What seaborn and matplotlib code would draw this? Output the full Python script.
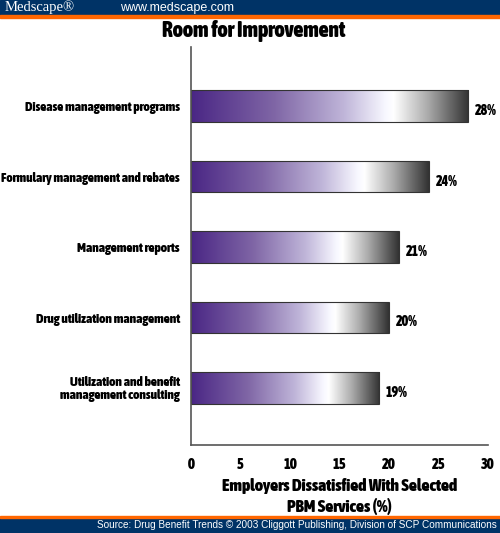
import numpy as np
import pandas as pd
import matplotlib
matplotlib.use("Agg")
import matplotlib.pyplot as plt
from matplotlib import font_manager
import matplotlib.patheffects as pe
from matplotlib.colors import LinearSegmentedColormap
import seaborn as sns

categories = ["Disease management programs",
              "Formulary management and rebates",
              "Management reports",
              "Drug utilization management",
              "Utilization and benefit\nmanagement consulting"]
values = [28, 24, 21, 20, 19]
value_labels = ["28%", "24%", "21%", "20%", "19%"]
xticks = [0, 5, 10, 15, 20, 25, 30]

sns.set_style("white")

# find a condensed / narrow family, preferring a bold face
cond_bold = None
cond_any = None
for f in font_manager.fontManager.ttflist:
    n = f.name.lower()
    if "narrow" in n or "condensed" in n:
        w = f.weight if isinstance(f.weight, int) else (700 if "bold" in str(f.weight).lower() else 400)
        if w >= 600 and "italic" not in f.style and cond_bold is None:
            cond_bold = f.fname
        if cond_any is None:
            cond_any = f.name
if cond_bold:
    EFF = []
    FAM = None
else:
    FAM = ([cond_any] if cond_any else []) + ["DejaVu Sans"]
    EFF = [pe.withStroke(linewidth=0.7, foreground="black")]

plt.rcParams["text.color"] = "black"
plt.rcParams["xtick.color"] = "black"
plt.rcParams["ytick.color"] = "black"
plt.rcParams["axes.labelcolor"] = "black"


def style(t, size):
    if cond_bold:
        t.set_fontproperties(font_manager.FontProperties(fname=cond_bold, size=size))
    else:
        t.set_family(FAM)
        t.set_fontweight("bold")
        t.set_fontsize(size)
        t.set_path_effects(EFF)


fig = plt.figure(figsize=(5, 5.33), dpi=100)
ax = fig.add_axes([0.382, 0.165, 0.594, 0.747])

df = pd.DataFrame({"cat": categories, "val": values})
sns.barplot(data=df, x="val", y="cat", orient="h", ax=ax, width=0.45,
            color="white", edgecolor="#333333", linewidth=0.8)

cmap = LinearSegmentedColormap.from_list("grad", [
    (0.0, (0.29, 0.15, 0.52)),
    (0.30, (0.50, 0.40, 0.65)),
    (0.55, (0.75, 0.71, 0.85)),
    (0.70, (0.97, 0.97, 1.0)),
    (0.73, (1.0, 1.0, 1.0)),
    (0.85, (0.68, 0.68, 0.68)),
    (1.0, (0.20, 0.20, 0.20)),
])
grad = np.linspace(0, 1, 256).reshape(1, -1)
for p in ax.patches:
    x0, y0 = p.get_x(), p.get_y()
    w, h = p.get_width(), p.get_height()
    im = ax.imshow(grad, cmap=cmap, aspect="auto",
                   extent=[x0, x0 + w, y0 + h, y0], zorder=p.get_zorder() - 0.1)
    im.set_clip_path(p)
    p.set_facecolor("none")

for i, (v, lab) in enumerate(zip(values, value_labels)):
    t = ax.text(v + 0.7, i + 0.07, lab, va="center", ha="left")
    style(t, 10)

ax.set_xlim(0, 30)
ax.set_ylim(4.81, -0.84)
ax.set_xticks(xticks)
ax.set_xticklabels([str(t) for t in xticks])
for t in ax.get_xticklabels():
    style(t, 10.5)
ax.set_yticks(range(len(categories)))
ax.set_yticklabels(categories, linespacing=1.0)
for t in ax.get_yticklabels():
    style(t, 9.5)
ax.tick_params(axis="y", length=0, pad=8)
ax.tick_params(axis="x", length=6, width=1, color="#555555", direction="out", pad=3)
ax.set_xlabel("Employers Dissatisfied With Selected\nPBM Services (%)", labelpad=5,
              linespacing=1.25)
style(ax.xaxis.label, 12.5)
ax.set_ylabel("")
for s in ["top", "right"]:
    ax.spines[s].set_visible(False)
for s in ["left", "bottom"]:
    ax.spines[s].set_color("#555555")
    ax.spines[s].set_linewidth(1.2)

# Header band
fig.patches.append(plt.Rectangle((0, 1 - 15 / 533), 1, 15 / 533, transform=fig.transFigure,
                                 color="#003366", zorder=0))
fig.patches.append(plt.Rectangle((0, 1 - 17.5 / 533), 1, 2.5 / 533, transform=fig.transFigure,
                                 color="#ff6600", zorder=0))
fig.text(0.01, 1 - 7.5 / 533, "Medscape\u00ae", color="white", fontsize=10.5,
         family=["Liberation Serif", "DejaVu Serif"], va="center", ha="left")
fig.text(0.24, 1 - 7.5 / 533, "www.medscape.com", color="white", fontsize=9,
         family=["Liberation Sans", "DejaVu Sans"], va="center", ha="left")
tt = fig.text(0.508, 1 - 31 / 533, "Room for Improvement", ha="center", va="center")
style(tt, 15.5)

# Footer band
fig.patches.append(plt.Rectangle((0, 0), 1, 15 / 533, transform=fig.transFigure,
                                 color="#003366", zorder=0))
fig.patches.append(plt.Rectangle((0, 15 / 533), 1, 2 / 533, transform=fig.transFigure,
                                 color="#ff6600", zorder=0))
fig.text(0.994, 7.5 / 533, "Source: Drug Benefit Trends \u00a9 2003 Cliggott Publishing, Division of SCP Communications",
         color="white", fontsize=7.2, family=["Liberation Sans", "DejaVu Sans"],
         va="center", ha="right")

fig.savefig("out.png", dpi=100)
